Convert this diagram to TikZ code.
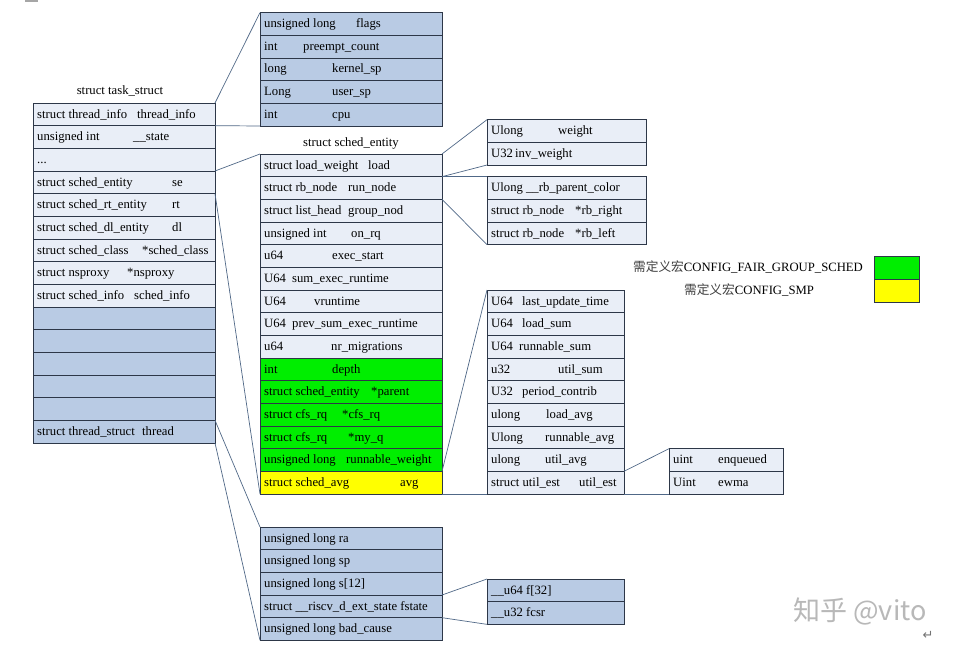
\documentclass[tikz,border=0pt]{standalone}
\usepackage{fontspec}
\setmainfont{Liberation Serif}
\newfontfamily\cjk{Noto Sans CJK SC}
\newfontfamily\djv{DejaVu Sans}
\definecolor{lightrow}{RGB}{233,238,247}
\definecolor{darkrow}{RGB}{185,203,228}
\definecolor{greenrow}{RGB}{0,238,0}
\definecolor{yellowrow}{RGB}{255,255,0}
\definecolor{bordercol}{RGB}{45,55,72}
\definecolor{linkcol}{RGB}{80,104,135}
\tikzset{
  cellbase/.style={draw=bordercol, line width=0.9pt, inner sep=0pt, outer sep=0pt, minimum height=22.67pt, anchor=north west},
  cl/.style={cellbase, fill=lightrow},
  cd/.style={cellbase, fill=darkrow},
  cg/.style={cellbase, fill=greenrow},
  cy/.style={cellbase, fill=yellowrow},
  txt/.style={inner sep=0pt, anchor=base west, font=\fontsize{12.7}{14}\selectfont},
  ttl/.style={inner sep=0pt, anchor=base, font=\fontsize{12.7}{14}\selectfont},
  link/.style={draw=linkcol, line width=0.7pt},
}
% #1 name, #2 style, #3 x0, #4 y0, #5 width, #6 type, #7 field x, #8 field
\newcommand\fld[8]{%
  \node[#2, minimum width=#5pt] (#1) at (#3,#4) {};
  \node[txt] (#1t) at (#3+4,#4+15) {#6};
  \node[txt] (#1f) at (#7,#4+15) {#8};
}
\begin{document}
\begin{tikzpicture}[x=1pt,y=-1pt]
\useasboundingbox (0,0) rectangle (957,650);
\fill[white] (0,0) rectangle (957,650);
\fill[gray!70] (25,0) rectangle (38,2);

% task_struct
\node[ttl] (tstitle) at (120,95) {struct task\_struct};
\fld{ts1}{cl}{33}{103}{182}{struct thread\_info}{137}{thread\_info}
\fld{ts2}{cl}{33}{125.67}{182}{unsigned int}{133}{\_\_state}
\fld{ts3}{cl}{33}{148.33}{182}{...}{137}{}
\fld{ts4}{cl}{33}{171}{182}{struct sched\_entity}{172}{se}
\fld{ts5}{cl}{33}{193.67}{182}{struct sched\_rt\_entity}{172}{rt}
\fld{ts6}{cl}{33}{216.33}{182}{struct sched\_dl\_entity}{172}{dl}
\fld{ts7}{cl}{33}{239}{182}{struct sched\_class}{142}{*sched\_class}
\fld{ts8}{cl}{33}{261.67}{182}{struct nsproxy}{127}{*nsproxy}
\fld{ts9}{cl}{33}{284.33}{182}{struct sched\_info}{134}{sched\_info}
\fld{ts10}{cd}{33}{307}{182}{}{134}{}
\fld{ts11}{cd}{33}{329.67}{182}{}{134}{}
\fld{ts12}{cd}{33}{352.33}{182}{}{134}{}
\fld{ts13}{cd}{33}{375}{182}{}{134}{}
\fld{ts14}{cd}{33}{397.67}{182}{}{134}{}
\fld{ts15}{cd}{33}{420.33}{182}{struct thread\_struct}{142}{thread}

% thread_info
\fld{fl1}{cd}{260}{12.67}{182}{unsigned long}{356}{flags}
\fld{fl2}{cd}{260}{35.33}{182}{int}{303}{preempt\_count}
\fld{fl3}{cd}{260}{58}{182}{long}{332}{kernel\_sp}
\fld{fl4}{cd}{260}{80.67}{182}{Long}{332}{user\_sp}
\fld{fl5}{cd}{260}{103.33}{182}{int}{332}{cpu}

% sched_entity
\node[ttl] (setitle) at (351,146.5) {struct sched\_entity};
\fld{se1}{cl}{260}{154}{182}{struct load\_weight}{368}{load}
\fld{se2}{cl}{260}{176.67}{182}{struct rb\_node}{348}{run\_node}
\fld{se3}{cl}{260}{199.33}{182}{struct list\_head}{348}{group\_nod}
\fld{se4}{cl}{260}{222}{182}{unsigned int}{351}{on\_rq}
\fld{se5}{cl}{260}{244.67}{182}{u64}{332}{exec\_start}
\fld{se6}{cl}{260}{267.33}{182}{U64}{292}{sum\_exec\_runtime}
\fld{se7}{cl}{260}{290}{182}{U64}{314}{vruntime}
\fld{se8}{cl}{260}{312.67}{182}{U64}{292}{prev\_sum\_exec\_runtime}
\fld{se9}{cl}{260}{335.33}{182}{u64}{331}{nr\_migrations}
\fld{se10}{cg}{260}{358}{182}{int}{332}{depth}
\fld{se11}{cg}{260}{380.67}{182}{struct sched\_entity}{371}{*parent}
\fld{se12}{cg}{260}{403.33}{182}{struct cfs\_rq}{342}{*cfs\_rq}
\fld{se13}{cg}{260}{426}{182}{struct cfs\_rq}{348}{*my\_q}
\fld{se14}{cg}{260}{448.67}{182}{unsigned long}{346}{runnable\_weight}
\fld{se15}{cy}{260}{471.33}{182}{struct sched\_avg}{400}{avg}

% load_weight
\fld{w1}{cl}{487}{119.67}{159}{Ulong}{558}{weight}
\fld{w2}{cl}{487}{142.33}{159}{U32}{515}{inv\_weight}
% rb_node
\fld{rb1}{cl}{487}{176.67}{159}{Ulong \_\_rb\_parent\_color}{517}{}
\fld{rb2}{cl}{487}{199.33}{159}{struct rb\_node}{575}{*rb\_right}
\fld{rb3}{cl}{487}{222}{159}{struct rb\_node}{575}{*rb\_left}

% sched_avg
\fld{sa1}{cl}{487}{290}{137}{U64}{522}{last\_update\_time}
\fld{sa2}{cl}{487}{312.67}{137}{U64}{522}{load\_sum}
\fld{sa3}{cl}{487}{335.33}{137}{U64}{519}{runnable\_sum}
\fld{sa4}{cl}{487}{358}{137}{u32}{558}{util\_sum}
\fld{sa5}{cl}{487}{380.67}{137}{U32}{522}{period\_contrib}
\fld{sa6}{cl}{487}{403.33}{137}{ulong}{546}{load\_avg}
\fld{sa7}{cl}{487}{426}{137}{Ulong}{545}{runnable\_avg}
\fld{sa8}{cl}{487}{448.67}{137}{ulong}{545}{util\_avg}
\fld{sa9}{cl}{487}{471.33}{137}{struct util\_est}{579}{util\_est}

% util_est
\fld{ue1}{cl}{669}{448.67}{114}{uint}{718}{enqueued}
\fld{ue2}{cl}{669}{471.33}{114}{Uint}{718}{ewma}

% thread_struct
\fld{th1}{cd}{260}{527}{182}{unsigned long ra}{300}{}
\fld{th2}{cd}{260}{549.67}{182}{unsigned long sp}{300}{}
\fld{th3}{cd}{260}{572.33}{182}{unsigned long s[12]}{300}{}
\fld{th4}{cd}{260}{595}{182}{struct \_\_riscv\_d\_ext\_state fstate}{300}{}
\fld{th5}{cd}{260}{617.67}{182}{unsigned long bad\_cause}{300}{}

% fstate
\fld{fs1}{cd}{487}{579}{137}{\_\_u64 f[32]}{530}{}
\fld{fs2}{cd}{487}{601.67}{137}{\_\_u32 fcsr}{530}{}

% legend
\node[ttl] (lg1) at (748,271) {{\cjk\color{black!75}需定义宏}CONFIG\_FAIR\_GROUP\_SCHED};
\node[ttl] (lg2) at (749,294) {{\cjk\color{black!75}需定义宏}CONFIG\_SMP};
\node[cg, minimum width=45pt, minimum height=23pt] (lgg) at (874,256) {};
\node[cy, minimum width=45pt, minimum height=23pt] (lgy) at (874,279) {};

% connectors
\draw[link] (ts1.north east) -- (fl1.north west);
\draw[link] (ts1.south east) -- (fl5.south west);
\draw[link] (ts4.north east) -- (se1.north west);
\draw[link] (ts4.south east) -- (se15.south west);
\draw[link] (se1.north east) -- (w1.north west);
\draw[link] (se1.south east) -- (w2.south west);
\draw[link] (se2.north east) -- (rb1.north west);
\draw[link] (se2.south east) -- (rb3.south west);
\draw[link] (se15.north east) -- (sa1.north west);
\draw[link] (se15.south east) -- (sa9.south west);
\draw[link] (sa9.north east) -- (ue1.north west);
\draw[link] (sa9.south east) -- (ue2.south west);
\draw[link] (ts15.north east) -- (th1.north west);
\draw[link] (ts15.south east) -- (th5.south west);
\draw[link] (th4.north east) -- (fs1.north west);
\draw[link] (th4.south east) -- (fs2.south west);

% watermark
\node[inner sep=0pt, anchor=center, text=black!28, font=\cjk\fontsize{27}{30}\selectfont] (wm) at (860,611) {知乎 @vito};
\node[inner sep=0pt, anchor=center, text=black!55, font=\djv\fontsize{13}{14}\selectfont] (ret) at (928,635) {↵};
\end{tikzpicture}
\end{document}
